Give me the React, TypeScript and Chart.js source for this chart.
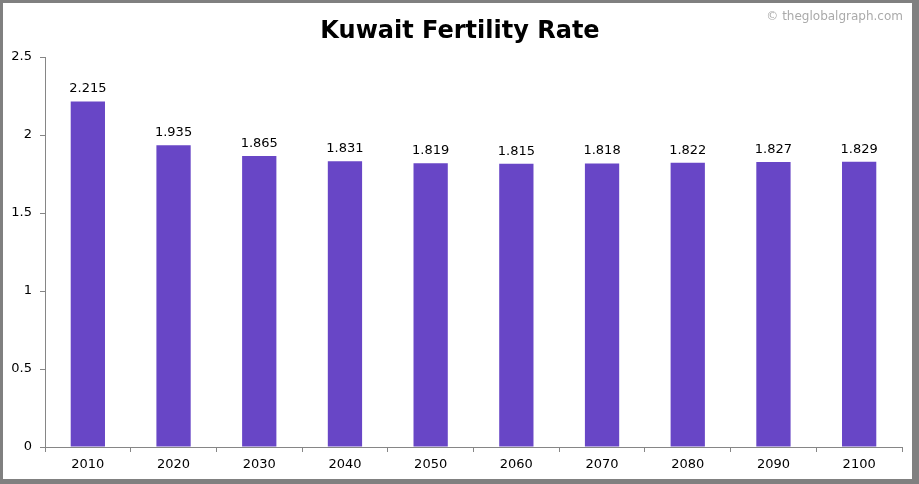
import React, { useEffect, useRef } from 'react';
import { Chart, ChartConfiguration, Plugin, registerables } from 'chart.js';

Chart.register(...registerables);

const years = ['2010', '2020', '2030', '2040', '2050', '2060', '2070', '2080', '2090', '2100'];
const fertility = [2.215, 1.935, 1.865, 1.831, 1.819, 1.815, 1.818, 1.822, 1.827, 1.829];
const yTicks = [0, 0.5, 1, 1.5, 2, 2.5];

const FONT = '"DejaVu Sans", Verdana, sans-serif';
const AXIS_GREY = '#868686';

// title, watermark and value labels drawn on the canvas
const decorations: Plugin<'bar'> = {
  id: 'decorations',
  afterDatasetsDraw(chart) {
    const { ctx } = chart;
    ctx.save();
    ctx.fillStyle = '#000';
    ctx.font = `bold 24px ${FONT}`;
    ctx.textAlign = 'center';
    ctx.textBaseline = 'alphabetic';
    ctx.fillText('Kuwait Fertility Rate', 457, 35);

    ctx.fillStyle = '#aaaaaa';
    ctx.font = `12px ${FONT}`;
    ctx.textAlign = 'right';
    ctx.textBaseline = 'middle';
    ctx.fillText('© theglobalgraph.com', 900, 14);

    ctx.fillStyle = '#000';
    ctx.font = `13px ${FONT}`;
    ctx.textAlign = 'center';
    ctx.textBaseline = 'bottom';
    const meta = chart.getDatasetMeta(0);
    meta.data.forEach((bar, i) => {
      ctx.fillText(fertility[i].toFixed(3), bar.x, bar.y - 6);
    });
    ctx.restore();
  }
};

const FertilityChart: React.FC = () => {
  const canvasRef = useRef<HTMLCanvasElement>(null);
  const chartRef = useRef<Chart | null>(null);

  useEffect(() => {
    if (!canvasRef.current) return;
    const ctx = canvasRef.current.getContext('2d');
    if (!ctx) return;

    const config: ChartConfiguration<'bar'> = {
      type: 'bar',
      data: {
        labels: years,
        datasets: [{
          label: 'Fertility Rate',
          data: fertility,
          backgroundColor: '#6846C6',
          barPercentage: 0.4,
          categoryPercentage: 1
        }]
      },
      options: {
        responsive: false,
        animation: false,
        layout: { padding: { top: 54, right: 10, left: 0, bottom: 0 } },
        plugins: {
          legend: { display: false },
          title: { display: false },
          tooltip: { enabled: false }
        },
        scales: {
          x: {
            grid: { drawOnChartArea: false, drawTicks: true, tickLength: 5, color: AXIS_GREY, offset: true },
            border: { color: AXIS_GREY },
            ticks: { color: '#000', font: { family: FONT, size: 13 }, padding: 5 },
            afterFit: (scale) => { scale.height = 32; }
          },
          y: {
            min: 0,
            max: 2.5,
            afterBuildTicks: (scale) => { scale.ticks = yTicks.map(v => ({ value: v })); },
            grid: { drawOnChartArea: false, drawTicks: true, tickLength: 5, color: AXIS_GREY },
            border: { color: AXIS_GREY },
            ticks: {
              color: '#000',
              font: { family: FONT, size: 13 },
              padding: 8,
              callback: (value) => String(Number(value))
            },
            afterFit: (scale) => { scale.width = 42; }
          }
        }
      },
      plugins: [decorations]
    };

    chartRef.current = new Chart(ctx, config);
    return () => {
      chartRef.current?.destroy();
      chartRef.current = null;
    };
  }, []);

  return (
    <div
      style={{
        position: 'fixed',
        left: 0,
        top: 0,
        width: 919,
        height: 484,
        boxSizing: 'border-box',
        background: '#fff',
        borderStyle: 'solid',
        borderColor: '#808080',
        borderWidth: '3px 7px 5px 3px'
      }}
    >
      <canvas ref={canvasRef} width={909} height={476} style={{ display: 'block' }} />
    </div>
  );
};

export default function App() {
  return <FertilityChart />;
}
